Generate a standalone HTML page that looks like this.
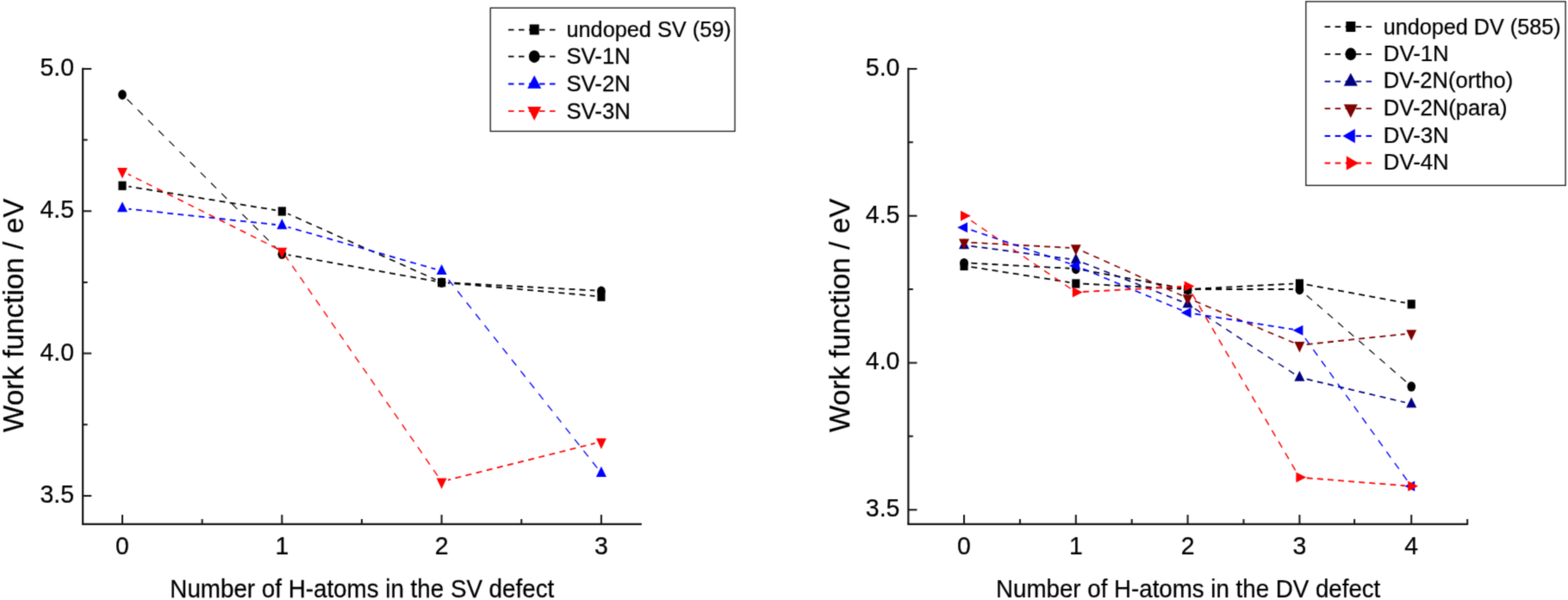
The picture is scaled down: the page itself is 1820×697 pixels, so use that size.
<!DOCTYPE html>
<html lang="en">
<head>
<meta charset="utf-8">
<title>Work function vs number of H-atoms</title>
<style>
html,body{margin:0;padding:0;background:#fff;}
body{width:1820px;height:697px;overflow:hidden;}
svg{display:block;}
text{font-family:"Liberation Sans", "DejaVu Sans", sans-serif;fill:#000;stroke:#000;stroke-width:0.25px;}
</style>
</head>
<body>
<svg width="1820" height="697" viewBox="0 0 1820 697">
<defs>
<filter id="soft" x="0" y="0" width="1820" height="697" filterUnits="userSpaceOnUse" color-interpolation-filters="sRGB">
<feConvolveMatrix order="3" kernelMatrix="27.78 111.11 27.78 111.11 444.44 111.11 27.78 111.11 27.78" divisor="1000" edgeMode="duplicate" preserveAlpha="true"/>
</filter>
</defs>
<g filter="url(#soft)">
<rect x="0" y="0" width="1820" height="697" fill="#fff"/>
<g id="left-plot">
<path d="M96.1 78.8V608.9" fill="none" stroke="#161616" stroke-width="2.2"/>
<path d="M95 608.9H744.8" fill="none" stroke="#161616" stroke-width="2.2"/>
<path d="M142 608.9v-10.8M327.3 608.9v-10.8M512.6 608.9v-10.8M697.9 608.9v-10.8M234.65 608.9v-6M419.95 608.9v-6M605.25 608.9v-6M96.1 79.9h10.1M96.1 245.25h10.1M96.1 410.6h10.1M96.1 575.95h10.1M96.1 162.57h5.5M96.1 327.92h5.5M96.1 493.27h5.5" fill="none" stroke="#161616" stroke-width="2.0"/>
<text transform="translate(142 643.7) scale(0.94 1)" font-size="30.2" text-anchor="middle">0</text>
<text transform="translate(327.3 643.7) scale(0.94 1)" font-size="30.2" text-anchor="middle">1</text>
<text transform="translate(512.6 643.7) scale(0.94 1)" font-size="30.2" text-anchor="middle">2</text>
<text transform="translate(697.9 643.7) scale(0.94 1)" font-size="30.2" text-anchor="middle">3</text>
<text transform="translate(86 87.8) scale(0.94 1)" font-size="30.2" text-anchor="end">5.0</text>
<text transform="translate(86 253.15) scale(0.94 1)" font-size="30.2" text-anchor="end">4.5</text>
<text transform="translate(86 418.5) scale(0.94 1)" font-size="30.2" text-anchor="end">4.0</text>
<text transform="translate(86 583.85) scale(0.94 1)" font-size="30.2" text-anchor="end">3.5</text>
<g stroke="#000000" fill="none"><line x1="149.41" y1="216.68" x2="319.89" y2="244.06" stroke-width="1.77" stroke-dasharray="6.95 5.3" stroke-dashoffset="3.7"/><line x1="334.15" y1="248.31" x2="505.75" y2="324.87" stroke-width="1.6" stroke-dasharray="7.21 6.04" stroke-dashoffset="3.39"/><line x1="520.07" y1="328.59" x2="690.43" y2="343.79" stroke-width="1.79" stroke-dasharray="6.96 5.19" stroke-dashoffset="4.83"/></g>
<rect x="137.45" y="210.59" width="9.1" height="10.3" fill="#000000"/>
<rect x="322.75" y="240.35" width="9.1" height="10.3" fill="#000000"/>
<rect x="508.05" y="323.02" width="9.1" height="10.3" fill="#000000"/>
<rect x="693.35" y="339.56" width="9.1" height="10.3" fill="#000000"/>
<g stroke="#000000" fill="none"><line x1="147.3" y1="114.96" x2="322" y2="289.55" stroke-width="1.15" stroke-dasharray="8.6 8.6" stroke-dashoffset="-0.41"/><line x1="334.68" y1="296.17" x2="505.22" y2="326.61" stroke-width="1.76" stroke-dasharray="6.95 5.34" stroke-dashoffset="3.69"/><line x1="520.09" y1="328.33" x2="690.41" y2="337.45" stroke-width="1.8" stroke-dasharray="6.98 5.14" stroke-dashoffset="4.83"/></g>
<ellipse cx="142" cy="110.01" rx="4.85" ry="5.75" fill="#000000"/>
<ellipse cx="327.3" cy="295.21" rx="4.85" ry="5.75" fill="#000000"/>
<ellipse cx="512.6" cy="328.27" rx="4.85" ry="5.75" fill="#000000"/>
<ellipse cx="697.9" cy="338.2" rx="4.85" ry="5.75" fill="#000000"/>
<g stroke="#0000ff" fill="none"><line x1="149.46" y1="242.74" x2="319.84" y2="260.99" stroke-width="1.79" stroke-dasharray="6.95 5.22" stroke-dashoffset="3.73"/><line x1="334.51" y1="263.84" x2="505.39" y2="312.64" stroke-width="1.71" stroke-dasharray="7.01 5.57" stroke-dashoffset="3.6"/><line x1="517.25" y1="320.58" x2="693.25" y2="543.61" stroke-width="1.31" stroke-dasharray="8.71 8.15" stroke-dashoffset="-5.65"/></g>
<polygon points="142,234.14 136,246.34 148,246.34" fill="#0000ff"/>
<polygon points="327.3,253.98 321.3,266.18 333.3,266.18" fill="#0000ff"/>
<polygon points="512.6,306.9 506.6,319.1 518.6,319.1" fill="#0000ff"/>
<polygon points="697.9,541.69 691.9,553.89 703.9,553.89" fill="#0000ff"/>
<g stroke="#ff0000" fill="none"><line x1="148.71" y1="202.3" x2="320.59" y2="288.2" stroke-width="1.56" stroke-dasharray="7.3 6.22" stroke-dashoffset="3.31"/><line x1="331.57" y1="297.72" x2="508.33" y2="553.25" stroke-width="1.4" stroke-dasharray="8.4 7.61" stroke-dashoffset="2.54"/><line x1="519.88" y1="557.6" x2="690.62" y2="514.94" stroke-width="1.73" stroke-dasharray="6.98 5.49" stroke-dashoffset="3.63"/></g>
<polygon points="142,207.55 136.05,195.05 147.95,195.05" fill="#ff0000"/>
<polygon points="327.3,300.15 321.35,287.65 333.25,287.65" fill="#ff0000"/>
<polygon points="512.6,568.02 506.65,555.52 518.55,555.52" fill="#ff0000"/>
<polygon points="697.9,521.72 691.95,509.22 703.85,509.22" fill="#ff0000"/>
<rect x="569.2" y="9.2" width="283.8" height="143.3" fill="#fff" stroke="#161616" stroke-width="1.3"/>
<line x1="590" y1="34.6" x2="645" y2="34.6" stroke="#000000" stroke-width="1.8" stroke-dasharray="6.5 5.5"/>
<rect x="614.7" y="28.4" width="11" height="12" fill="#000000"/>
<text transform="translate(657.4 42.5) scale(1.005 1)" font-size="25.2" stroke-width="0.35">undoped SV (59)</text>
<line x1="590" y1="65.7" x2="645" y2="65.7" stroke="#000000" stroke-width="1.8" stroke-dasharray="6.5 5.5"/>
<ellipse cx="620.2" cy="65.7" rx="6.35" ry="7.2" fill="#000000"/>
<text transform="translate(657.4 74) scale(1.022 1)" font-size="25.2" stroke-width="0.35">SV-1N</text>
<line x1="590" y1="97.5" x2="645" y2="97.5" stroke="#0000ff" stroke-width="1.8" stroke-dasharray="6.5 5.5"/>
<polygon points="620.2,87.6 612.2,102.7 628.2,102.7" fill="#0000ff"/>
<text transform="translate(657.4 105.8) scale(1.022 1)" font-size="25.2" stroke-width="0.35">SV-2N</text>
<line x1="590" y1="129.1" x2="645" y2="129.1" stroke="#ff0000" stroke-width="1.8" stroke-dasharray="6.5 5.5"/>
<polygon points="620.2,139.9 612.2,124.1 628.2,124.1" fill="#ff0000"/>
<text transform="translate(657.4 137.6) scale(1.022 1)" font-size="25.2" stroke-width="0.35">SV-3N</text>
<text transform="translate(420.3 694.3) scale(0.958 1)" font-size="29.0" text-anchor="middle" stroke-width="0.45">Number of H-atoms in the SV defect</text>
<text transform="translate(26.9 366.4) rotate(-90) scale(1.004 1)" font-size="33.2" text-anchor="middle" stroke-width="0.45">Work function / eV</text>
</g>
<g id="right-plot">
<path d="M1054.3 78.8V608.9" fill="none" stroke="#161616" stroke-width="2.2"/>
<path d="M1053.2 608.9H1704.1" fill="none" stroke="#161616" stroke-width="2.2"/>
<path d="M1119 608.9v-10.8M1248.8 608.9v-10.8M1378.6 608.9v-10.8M1508.4 608.9v-10.8M1638.2 608.9v-10.8M1183.9 608.9v-6M1313.7 608.9v-6M1443.5 608.9v-6M1572.1 608.9v-6M1703.2 608.9v-6M1054.3 79.9h10.1M1054.3 250.65h10.1M1054.3 421.4h10.1M1054.3 592.15h10.1M1054.3 165.28h5.5M1054.3 336.02h5.5M1054.3 506.77h5.5" fill="none" stroke="#161616" stroke-width="2.0"/>
<text transform="translate(1119 643.6) scale(0.94 1)" font-size="30.2" text-anchor="middle">0</text>
<text transform="translate(1248.8 643.6) scale(0.94 1)" font-size="30.2" text-anchor="middle">1</text>
<text transform="translate(1378.6 643.6) scale(0.94 1)" font-size="30.2" text-anchor="middle">2</text>
<text transform="translate(1508.4 643.6) scale(0.94 1)" font-size="30.2" text-anchor="middle">3</text>
<text transform="translate(1638.2 643.6) scale(0.94 1)" font-size="30.2" text-anchor="middle">4</text>
<text transform="translate(1044.3 87.8) scale(0.94 1)" font-size="30.2" text-anchor="end">5.0</text>
<text transform="translate(1044.3 258.55) scale(0.94 1)" font-size="30.2" text-anchor="end">4.5</text>
<text transform="translate(1044.3 429.3) scale(0.94 1)" font-size="30.2" text-anchor="end">4.0</text>
<text transform="translate(1044.3 600.05) scale(0.94 1)" font-size="30.2" text-anchor="end">3.5</text>
<g stroke="#000000" fill="none"><line x1="1126.41" y1="309.87" x2="1241.39" y2="328.03" stroke-width="1.77" stroke-dasharray="6.95 5.3" stroke-dashoffset="-0.95"/><line x1="1256.29" y1="329.59" x2="1371.11" y2="335.63" stroke-width="1.8" stroke-dasharray="6.98 5.14" stroke-dashoffset="-0.86"/><line x1="1386.09" y1="335.63" x2="1500.91" y2="329.59" stroke-width="1.8" stroke-dasharray="6.98 5.14" stroke-dashoffset="-0.86"/><line x1="1515.78" y1="330.55" x2="1630.82" y2="351.74" stroke-width="1.76" stroke-dasharray="6.95 5.35" stroke-dashoffset="-0.99"/></g>
<rect x="1114.45" y="303.81" width="9.1" height="10.3" fill="#000000"/>
<rect x="1244.25" y="324.3" width="9.1" height="10.3" fill="#000000"/>
<rect x="1374.05" y="331.12" width="9.1" height="10.3" fill="#000000"/>
<rect x="1503.85" y="324.3" width="9.1" height="10.3" fill="#000000"/>
<rect x="1633.65" y="348.2" width="9.1" height="10.3" fill="#000000"/>
<g stroke="#000000" fill="none"><line x1="1126.49" y1="305.68" x2="1241.31" y2="311.73" stroke-width="1.8" stroke-dasharray="6.98 5.14" stroke-dashoffset="-0.86"/><line x1="1256.18" y1="313.48" x2="1371.22" y2="334.67" stroke-width="1.76" stroke-dasharray="6.95 5.35" stroke-dashoffset="-0.99"/><line x1="1386.1" y1="336.02" x2="1500.9" y2="336.02" stroke-width="1.8" stroke-dasharray="7.02 5.08" stroke-dashoffset="-0.85"/><line x1="1514.06" y1="340.94" x2="1632.54" y2="443.8" stroke-width="1.25" stroke-dasharray="8.18 7.84" stroke-dashoffset="-3.56"/></g>
<ellipse cx="1119" cy="305.64" rx="4.85" ry="5.75" fill="#000000"/>
<ellipse cx="1248.8" cy="312.47" rx="4.85" ry="5.75" fill="#000000"/>
<ellipse cx="1378.6" cy="336.38" rx="4.85" ry="5.75" fill="#000000"/>
<ellipse cx="1508.4" cy="336.38" rx="4.85" ry="5.75" fill="#000000"/>
<ellipse cx="1638.2" cy="449.07" rx="4.85" ry="5.75" fill="#000000"/>
<g stroke="#000080" fill="none"><line x1="1126.44" y1="285.78" x2="1241.36" y2="300.9" stroke-width="1.78" stroke-dasharray="6.95 5.25" stroke-dashoffset="-0.92"/><line x1="1255.78" y1="304.63" x2="1371.62" y2="350.35" stroke-width="1.64" stroke-dasharray="7.13 5.87" stroke-dashoffset="-1.48"/><line x1="1384.87" y1="357.22" x2="1502.13" y2="434.35" stroke-width="1.42" stroke-dasharray="7.64 6.84" stroke-dashoffset="-2.49"/><line x1="1515.7" y1="440.2" x2="1630.9" y2="467.48" stroke-width="1.74" stroke-dasharray="6.98 5.46" stroke-dashoffset="-1.08"/></g>
<polygon points="1119,277 1113,289.2 1125,289.2" fill="#000080"/>
<polygon points="1248.8,294.08 1242.8,306.28 1254.8,306.28" fill="#000080"/>
<polygon points="1378.6,345.3 1372.6,357.5 1384.6,357.5" fill="#000080"/>
<polygon points="1508.4,430.67 1502.4,442.87 1514.4,442.87" fill="#000080"/>
<polygon points="1638.2,461.41 1632.2,473.61 1644.2,473.61" fill="#000080"/>
<g stroke="#800000" fill="none"><line x1="1126.49" y1="281.78" x2="1241.31" y2="287.82" stroke-width="1.8" stroke-dasharray="6.98 5.14" stroke-dashoffset="-0.86"/><line x1="1255.65" y1="291.28" x2="1371.75" y2="343.21" stroke-width="1.6" stroke-dasharray="7.21 6.04" stroke-dashoffset="-1.65"/><line x1="1385.51" y1="349.18" x2="1501.49" y2="398" stroke-width="1.62" stroke-dasharray="7.17 5.96" stroke-dashoffset="-1.56"/><line x1="1515.86" y1="400.13" x2="1630.74" y2="388.03" stroke-width="1.79" stroke-dasharray="6.95 5.21" stroke-dashoffset="-0.9"/></g>
<polygon points="1119,289.99 1113.05,277.49 1124.95,277.49" fill="#800000"/>
<polygon points="1248.8,296.82 1242.85,284.32 1254.75,284.32" fill="#800000"/>
<polygon points="1378.6,354.87 1372.65,342.37 1384.55,342.37" fill="#800000"/>
<polygon points="1508.4,409.51 1502.45,397.01 1514.35,397.01" fill="#800000"/>
<polygon points="1638.2,395.85 1632.25,383.35 1644.15,383.35" fill="#800000"/>
<g stroke="#0000ff" fill="none"><line x1="1126.1" y1="266.74" x2="1241.7" y2="306.28" stroke-width="1.68" stroke-dasharray="7.07 5.72" stroke-dashoffset="-1.32"/><line x1="1255.71" y1="311.61" x2="1371.69" y2="360.44" stroke-width="1.62" stroke-dasharray="7.17 5.96" stroke-dashoffset="-1.56"/><line x1="1386.01" y1="364.51" x2="1500.99" y2="382.67" stroke-width="1.77" stroke-dasharray="6.95 5.3" stroke-dashoffset="-0.95"/><line x1="1512.77" y1="389.93" x2="1633.83" y2="558.74" stroke-width="1.37" stroke-dasharray="8.47 7.74" stroke-dashoffset="-3.68"/></g>
<polygon points="1111.2,264.31 1123,258.31 1123,270.31" fill="#0000ff"/>
<polygon points="1241,308.7 1252.8,302.7 1252.8,314.7" fill="#0000ff"/>
<polygon points="1370.8,363.35 1382.6,357.35 1382.6,369.35" fill="#0000ff"/>
<polygon points="1500.6,383.83 1512.4,377.83 1512.4,389.83" fill="#0000ff"/>
<polygon points="1630.4,564.83 1642.2,558.83 1642.2,570.83" fill="#0000ff"/>
<g stroke="#ff0000" fill="none"><line x1="1125.19" y1="254.88" x2="1242.61" y2="335.21" stroke-width="1.4" stroke-dasharray="7.7 6.96" stroke-dashoffset="-2.62"/><line x1="1256.29" y1="339.05" x2="1371.11" y2="333" stroke-width="1.8" stroke-dasharray="6.98 5.14" stroke-dashoffset="-0.86"/><line x1="1382.39" y1="339.08" x2="1504.61" y2="548.11" stroke-width="1.49" stroke-dasharray="8.14 7.12" stroke-dashoffset="-3.03"/><line x1="1515.88" y1="555.18" x2="1630.72" y2="564.24" stroke-width="1.79" stroke-dasharray="6.96 5.17" stroke-dashoffset="-0.87"/></g>
<polygon points="1126.8,250.65 1115,244.65 1115,256.65" fill="#ff0000"/>
<polygon points="1256.6,339.44 1244.8,333.44 1244.8,345.44" fill="#ff0000"/>
<polygon points="1386.4,332.61 1374.6,326.61 1374.6,338.61" fill="#ff0000"/>
<polygon points="1516.2,554.59 1504.4,548.59 1504.4,560.59" fill="#ff0000"/>
<polygon points="1646,564.83 1634.2,558.83 1634.2,570.83" fill="#ff0000"/>
<rect x="1515.8" y="1.8" width="301.3" height="213.6" fill="#fff" stroke="#161616" stroke-width="1.3"/>
<line x1="1537.6" y1="31.2" x2="1592.6" y2="31.2" stroke="#000000" stroke-width="1.8" stroke-dasharray="6.5 5.5"/>
<rect x="1562.3" y="25" width="11" height="12" fill="#000000"/>
<text transform="translate(1605.8 39.5) scale(1.0 1)" font-size="25.2" stroke-width="0.35">undoped DV (585)</text>
<line x1="1537.6" y1="62.8" x2="1592.6" y2="62.8" stroke="#000000" stroke-width="1.8" stroke-dasharray="6.5 5.5"/>
<ellipse cx="1567.8" cy="62.8" rx="6.35" ry="7.2" fill="#000000"/>
<text transform="translate(1605.8 70.65) scale(1.023 1)" font-size="25.2" stroke-width="0.35">DV-1N</text>
<line x1="1537.6" y1="94.55" x2="1592.6" y2="94.55" stroke="#000080" stroke-width="1.8" stroke-dasharray="6.5 5.5"/>
<polygon points="1567.8,84.65 1559.8,99.75 1575.8,99.75" fill="#000080"/>
<text transform="translate(1605.8 102.4) scale(1.014 1)" font-size="25.2" stroke-width="0.35">DV-2N(ortho)</text>
<line x1="1537.6" y1="126.2" x2="1592.6" y2="126.2" stroke="#800000" stroke-width="1.8" stroke-dasharray="6.5 5.5"/>
<polygon points="1567.8,137 1559.8,121.2 1575.8,121.2" fill="#800000"/>
<text transform="translate(1605.8 134.2) scale(1.016 1)" font-size="25.2" stroke-width="0.35">DV-2N(para)</text>
<line x1="1537.6" y1="158" x2="1592.6" y2="158" stroke="#0000ff" stroke-width="1.8" stroke-dasharray="6.5 5.5"/>
<polygon points="1558.5,158 1572.8,149.7 1572.8,166.3" fill="#0000ff"/>
<text transform="translate(1605.8 165.6) scale(1.023 1)" font-size="25.2" stroke-width="0.35">DV-3N</text>
<line x1="1537.6" y1="189.5" x2="1592.6" y2="189.5" stroke="#ff0000" stroke-width="1.8" stroke-dasharray="6.5 5.5"/>
<polygon points="1577.1,189.5 1562.8,181.2 1562.8,197.8" fill="#ff0000"/>
<text transform="translate(1605.8 196.9) scale(1.023 1)" font-size="25.2" stroke-width="0.35">DV-4N</text>
<text transform="translate(1379.2 694.3) scale(0.9551259999999999 1)" font-size="29.0" text-anchor="middle" stroke-width="0.45">Number of H-atoms in the DV defect</text>
<text transform="translate(985.5 366.4) rotate(-90) scale(1.004 1)" font-size="33.2" text-anchor="middle" stroke-width="0.45">Work function / eV</text>
</g>
</g>
</svg>
</body>
</html>
